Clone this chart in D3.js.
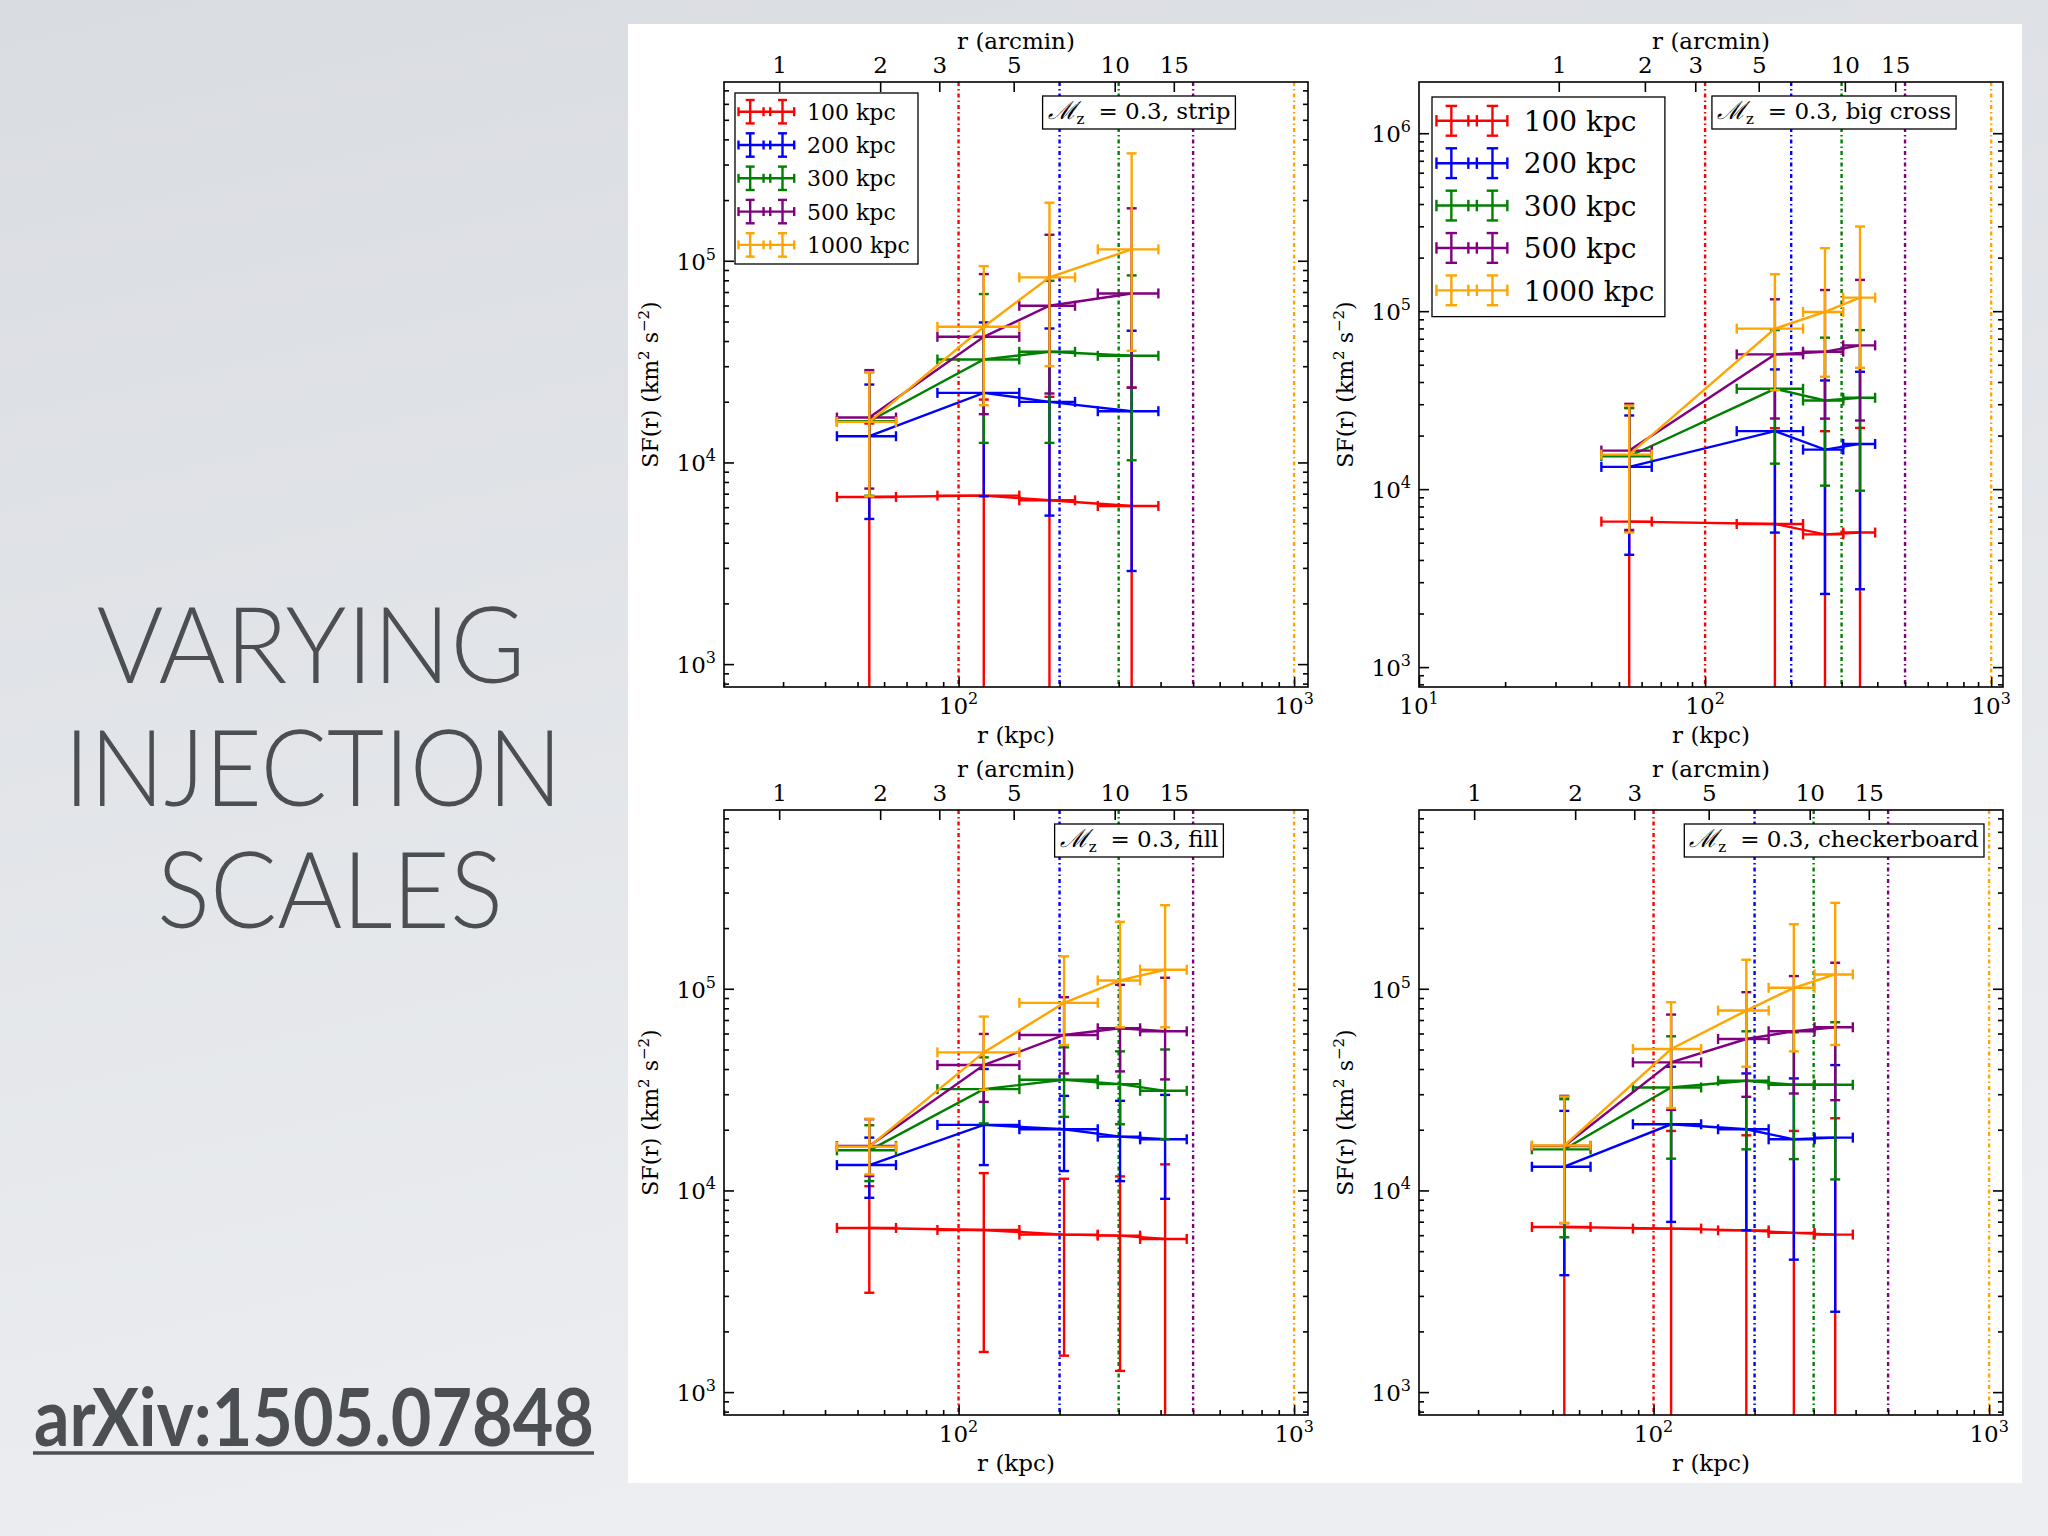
<!DOCTYPE html>
<html>
<head>
<meta charset="utf-8">
<script src="https://cdn.jsdelivr.net/npm/d3@7"></script>
<style>
  body { margin: 0; }
  svg text { font-family: "DejaVu Serif", serif; }
</style>
</head>
<body>
<svg id="chart" width="2048" height="1536"></svg>
<script>
const series = ["100 kpc", "200 kpc", "300 kpc", "500 kpc", "1000 kpc"];
const seriesColors = ["red", "blue", "green", "purple", "orange"];
const injectionScales = [100, 200, 300, 500, 1000];
const arcminTicks = [1, 2, 3, 5, 10, 15];
const panelLabels = ["strip", "big cross", "fill", "checkerboard"];
const kpcPerArcmin = [29.2, 30.8, 29.2, 29.2];

// strip
const stripR   = [54.2, 118.9, 186.6, 328];
const stripRLo = [43.4, 86.5, 151.7, 260];
const stripRHi = [65.1, 151.7, 222.4, 394];
const stripSF = [
  [6745, 6850, 6490, 6085],
  [13490, 22130, 19970, 17950],
  [16010, 32400, 35370, 33790],
  [16700, 41980, 59820, 68870],
  [15900, 47060, 82700, 113900]
];
const stripHi = [
  [15600, 20500, 21150, 23500],
  [24340, 49440, 46150, 44990],
  [28030, 68380, 79600, 84600],
  [28690, 85900, 134600, 182000],
  [28000, 94100, 194000, 341000]
];
const stripLo = [
  [0, 0, 0, 0],
  [5245, 6790, 5450, 2895],
  [6840, 12500, 12500, 10250],
  [7420, 17350, 21980, 23500],
  [6790, 19220, 30020, 35770]
];

// big cross
const crossR   = [54.3, 175.4, 262.5, 348];
const crossRLo = [43.4, 129, 220, 304];
const crossRHi = [65.1, 220, 304, 393];
const crossSF = [
  [6572, 6370, 5567, 5702],
  [13330, 21170, 16680, 17950],
  [15300, 36630, 31480, 32610],
  [16470, 57170, 59180, 64230],
  [15630, 79750, 99000, 119200]
];
const crossHi = [
  [28500, 22000, 21170, 22090],
  [25930, 47070, 40810, 45660],
  [28640, 78300, 70980, 78300],
  [30150, 116600, 131500, 149900],
  [29500, 161300, 225900, 299200]
];
const crossLo = [
  [0, 0, 0, 0],
  [4277, 5700, 2577, 2738],
  [5800, 13910, 10460, 9800],
  [5900, 24940, 24900, 24300],
  [5700, 35990, 42800, 48080]
];

// fill
const fillR   = [54.2, 118.9, 206.3, 302.9, 412.6];
const fillRLo = [43.4, 86.5, 151.8, 259.9, 347.6];
const fillRHi = [65.1, 151.8, 259.9, 347.6, 478.7];
const fillSF = [
  [6518, 6370, 6040, 5970, 5747],
  [13360, 21130, 20110, 18490, 17930],
  [15810, 31790, 35390, 33670, 31190],
  [16610, 41850, 59020, 63690, 61540],
  [16500, 48380, 85150, 109970, 124300]
];
const fillHi = [
  [10500, 12190, 11430, 11740, 13470],
  [18280, 40000, 29440, 27820, 29770],
  [21050, 45700, 51240, 48940, 50000],
  [22550, 59700, 90800, 104600, 113400],
  [22700, 72800, 144800, 214600, 259700]
];
const fillLo = [
  [3109, 1581, 1516, 1274, 0],
  [9193, 13360, 12480, 11120, 9087],
  [11120, 21500, 23160, 21290, 17930],
  [11780, 27500, 38040, 38920, 35520],
  [12010, 31550, 52620, 64420, 64400]
];

// checkerboard
const checkR   = [54.2, 112.8, 189.0, 261.9, 347.8];
const checkRLo = [43.4, 86.8, 155.7, 220.3, 301.8];
const checkRHi = [64.9, 138.6, 220.3, 301.8, 392.5];
const checkSF = [
  [6590, 6469, 6340, 6157, 6040],
  [13110, 21290, 20110, 17930, 18280],
  [15990, 32400, 34970, 33410, 33410],
  [16610, 43150, 56360, 61540, 64420],
  [16700, 50270, 77980, 101100, 117800]
];
const checkHi = [
  [29000, 19730, 18770, 19730, 22800],
  [24800, 41060, 38040, 35930, 41850],
  [28350, 58120, 61540, 60800, 68240],
  [29440, 74490, 96200, 115600, 134600],
  [29200, 85800, 139300, 208900, 266700]
];
const checkLo = [
  [0, 0, 0, 0, 0],
  [3799, 6983, 6340, 4537, 2503],
  [5858, 14370, 15990, 14300, 11340],
  [6883, 25090, 29120, 30250, 28030],
  [6900, 25620, 41060, 48940, 52620]
];

const panels = [
  { r: stripR, rLo: stripRLo, rHi: stripRHi, sf: stripSF, lo: stripLo, hi: stripHi,
    xDomain: [20, 1100], yDomain: [770, 7.7e5], left: 724, top: 82, legend: 22 },
  { r: crossR, rLo: crossRLo, rHi: crossRHi, sf: crossSF, lo: crossLo, hi: crossHi,
    xDomain: [10, 1100], yDomain: [773, 1.94e6], left: 1419, top: 82, legend: 28 },
  { r: fillR, rLo: fillRLo, rHi: fillRHi, sf: fillSF, lo: fillLo, hi: fillHi,
    xDomain: [20, 1100], yDomain: [770, 7.7e5], left: 724, top: 810, legend: 0 },
  { r: checkR, rLo: checkRLo, rHi: checkRHi, sf: checkSF, lo: checkLo, hi: checkHi,
    xDomain: [20, 1100], yDomain: [770, 7.7e5], left: 1419, top: 810, legend: 0 }
];

const W = 584, H = 605, CAP = 5, LW = 2.4;
const svg = d3.select("#chart");

// slide background
const defs = svg.append("defs");
const grad = defs.append("linearGradient").attr("id", "bg").attr("x1", 0).attr("y1", 0).attr("x2", 0.3).attr("y2", 1);
grad.append("stop").attr("offset", "0%").attr("stop-color", "#d9dce1");
grad.append("stop").attr("offset", "100%").attr("stop-color", "#eceef1");
svg.append("rect").attr("width", 2048).attr("height", 1536).attr("fill", "url(#bg)");
svg.append("rect").attr("x", 628).attr("y", 24).attr("width", 1394).attr("height", 1459).attr("fill", "white");

// slide title
const titleLines = [
  { t: "VARYING", cx: 311, base: 683, len: 429 },
  { t: "INJECTION", cx: 313, base: 806, len: 498 },
  { t: "SCALES", cx: 330, base: 928, len: 346 }
];
titleLines.forEach(l => {
  svg.append("text").attr("x", l.cx - l.len / 2).attr("y", l.base)
    .attr("textLength", l.len).attr("lengthAdjust", "spacingAndGlyphs")
    .style("font-family", "Lato, 'Open Sans', sans-serif").style("font-weight", 300)
    .style("font-size", "106px").attr("fill", "#4b4e53").text(l.t);
});
svg.append("text").attr("x", 34).attr("y", 1446)
  .attr("textLength", 560).attr("lengthAdjust", "spacingAndGlyphs")
  .style("font-family", "Lato, 'Open Sans', sans-serif").style("font-weight", 700)
  .style("font-size", "80px").attr("fill", "#4b4e53").text("arXiv:1505.07848");
svg.append("line").attr("x1", 33).attr("x2", 594).attr("y1", 1453).attr("y2", 1453)
  .attr("stroke", "#4b4e53").attr("stroke-width", 3.5);

function logTicks(domain) {
  const majors = [], minors = [];
  for (let e = Math.floor(Math.log10(domain[0])); e <= Math.ceil(Math.log10(domain[1])); e++) {
    for (let m = 1; m <= 9; m++) {
      const v = m * Math.pow(10, e);
      if (v < domain[0] * 0.999 || v > domain[1] * 1.001) continue;
      (m === 1 ? majors : minors).push(v);
    }
  }
  return { majors, minors };
}

function styleAxis(sel) {
  sel.select(".domain").remove();
  sel.selectAll("line").attr("stroke", "black").attr("stroke-width", 1.6);
  sel.selectAll("text").style("font-size", "23px").attr("fill", "black");
}

function powLabel(sel, exp) {
  sel.append("tspan").text("10");
  sel.append("tspan").text(exp).attr("dy", -10).style("font-size", "16px");
}

panels.forEach((p, i) => {
  const g = svg.append("g").attr("transform", `translate(${p.left},${p.top})`);
  const x = d3.scaleLog().domain(p.xDomain).range([0, W]);
  const y = d3.scaleLog().domain(p.yDomain).range([H, 0]);
  const xTop = d3.scaleLog().domain(p.xDomain.map(v => v / kpcPerArcmin[i])).range([0, W]);

  defs.append("clipPath").attr("id", "clip" + i).append("rect").attr("width", W).attr("height", H);
  const plot = g.append("g").attr("clip-path", `url(#clip${i})`);

  // injection scale markers
  plot.selectAll(".inj").data(injectionScales).join("line")
    .attr("x1", d => x(d)).attr("x2", d => x(d)).attr("y1", 0).attr("y2", H)
    .attr("stroke", (d, k) => seriesColors[k]).attr("stroke-width", 2.4)
    .attr("stroke-dasharray", "4,3,1.5,3");

  series.forEach((name, s) => {
    const pts = p.r.map((r, k) => ({
      r, rLo: p.rLo[k], rHi: p.rHi[k], v: p.sf[s][k], lo: p.lo[s][k], hi: p.hi[s][k]
    }));
    const sg = plot.append("g").attr("stroke", seriesColors[s]).attr("stroke-width", LW).attr("fill", "none");
    pts.forEach(d => {
      const cx = x(d.r), cy = y(d.v);
      const yl = d.lo > 0 ? y(d.lo) : H + 10;
      sg.append("line").attr("x1", cx).attr("x2", cx).attr("y1", y(d.hi)).attr("y2", yl);
      sg.append("line").attr("x1", cx - CAP).attr("x2", cx + CAP).attr("y1", y(d.hi)).attr("y2", y(d.hi));
      if (d.lo > 0) sg.append("line").attr("x1", cx - CAP).attr("x2", cx + CAP).attr("y1", yl).attr("y2", yl);
      sg.append("line").attr("x1", x(d.rLo)).attr("x2", x(d.rHi)).attr("y1", cy).attr("y2", cy);
      [d.rLo, d.rHi].forEach(rv => {
        sg.append("line").attr("x1", x(rv)).attr("x2", x(rv)).attr("y1", cy - CAP).attr("y2", cy + CAP);
      });
    });
    sg.append("path").datum(pts)
      .attr("d", d3.line().x(d => x(d.r)).y(d => y(d.v)));
  });

  // axes
  const xt = logTicks(p.xDomain), yt = logTicks(p.yDomain);
  [[xt.minors, 5], [xt.majors, 10]].forEach(([vals, len]) => {
    g.append("g").attr("transform", `translate(0,${H})`)
      .call(d3.axisBottom(x).tickValues(vals).tickSize(-len).tickFormat("")).call(styleAxis);
  });
  [[yt.minors, 5], [yt.majors, 10]].forEach(([vals, len]) => {
    g.append("g").call(d3.axisLeft(y).tickValues(vals).tickSize(-len).tickFormat("")).call(styleAxis);
    g.append("g").attr("transform", `translate(${W},0)`)
      .call(d3.axisRight(y).tickValues(vals).tickSize(-len).tickFormat("")).call(styleAxis);
  });
  g.append("g")
    .call(d3.axisTop(xTop).tickValues(arcminTicks).tickSize(-10).tickPadding(9).tickFormat(d3.format("d")))
    .call(styleAxis);

  xt.majors.forEach(v => {
    g.append("text").attr("x", x(v)).attr("y", H + 27).attr("text-anchor", "middle")
      .style("font-size", "23px").call(powLabel, Math.round(Math.log10(v)));
  });
  yt.majors.forEach(v => {
    g.append("text").attr("x", -8).attr("y", y(v) + 9).attr("text-anchor", "end")
      .style("font-size", "23px").call(powLabel, Math.round(Math.log10(v)));
  });

  g.append("rect").attr("width", W).attr("height", H).attr("fill", "none")
    .attr("stroke", "black").attr("stroke-width", 1.6);

  // axis titles
  g.append("text").attr("x", W / 2).attr("y", -33).attr("text-anchor", "middle")
    .style("font-size", "23px").text("r (arcmin)");
  g.append("text").attr("x", W / 2).attr("y", H + 56).attr("text-anchor", "middle")
    .style("font-size", "23px").text("r (kpc)");
  const yl = g.append("text").attr("transform", `translate(-66,${H / 2}) rotate(-90)`)
    .attr("text-anchor", "middle").style("font-size", "22px");
  yl.append("tspan").text("SF(r) (km");
  yl.append("tspan").text("2").attr("dy", -9).style("font-size", "15px");
  yl.append("tspan").text(" s").attr("dy", 9);
  yl.append("tspan").text("\u22122").attr("dy", -9).style("font-size", "15px");
  yl.append("tspan").text(")").attr("dy", 9);

  // annotation box
  const ann = g.append("g").attr("transform", "translate(415,14)");
  const annRect = ann.append("rect").attr("fill", "white").attr("stroke", "black").attr("stroke-width", 1.3);
  const annText = ann.append("text").attr("y", 23).attr("text-anchor", "middle").style("font-size", "23px");
  annText.append("tspan").text("\u2133").style("font-style", "italic").style("font-size", "25px");
  annText.append("tspan").text("z").attr("dy", 5).style("font-size", "15px");
  annText.append("tspan").text("= 0.3, " + panelLabels[i]).attr("dy", -5).attr("dx", 14);
  const bb = annText.node().getBBox();
  annRect.attr("x", bb.x - 5).attr("y", 0).attr("width", bb.width + 10).attr("height", 33);

  // legend
  if (p.legend) {
    const k = p.legend / 22;
    const lg = g.append("g").attr("transform", `translate(${i === 0 ? 11 : 13},${i === 0 ? 11 : 15})`);
    lg.append("rect").attr("width", 183 * k).attr("height", 171 * k + (i === 0 ? 0 : 2))
      .attr("fill", "white").attr("stroke", "black").attr("stroke-width", 1.3);
    series.forEach((name, s) => {
      const rowY = (18.7 + 33.3 * s) * k;
      const gx = 3.5 * k, gw = 55.7 * k, bh = 11.7 * k, ch = 4.5 * k;
      const row = lg.append("g").attr("stroke", seriesColors[s]).attr("stroke-width", LW);
      row.append("line").attr("x1", gx).attr("x2", gx + gw).attr("y1", rowY).attr("y2", rowY);
      [0, 0.45, 0.57, 1].forEach(f => {
        row.append("line").attr("x1", gx + gw * f).attr("x2", gx + gw * f).attr("y1", rowY - ch).attr("y2", rowY + ch);
      });
      [0.21, 0.79].forEach(f => {
        const bx = gx + gw * f;
        row.append("line").attr("x1", bx).attr("x2", bx).attr("y1", rowY - bh).attr("y2", rowY + bh);
        row.append("line").attr("x1", bx - ch).attr("x2", bx + ch).attr("y1", rowY - bh).attr("y2", rowY - bh);
        row.append("line").attr("x1", bx - ch).attr("x2", bx + ch).attr("y1", rowY + bh).attr("y2", rowY + bh);
      });
      lg.append("text").attr("x", 72 * k).attr("y", rowY + 8 * k)
        .style("font-size", p.legend + "px").text(name);
    });
  }
});
</script>
</body>
</html>
